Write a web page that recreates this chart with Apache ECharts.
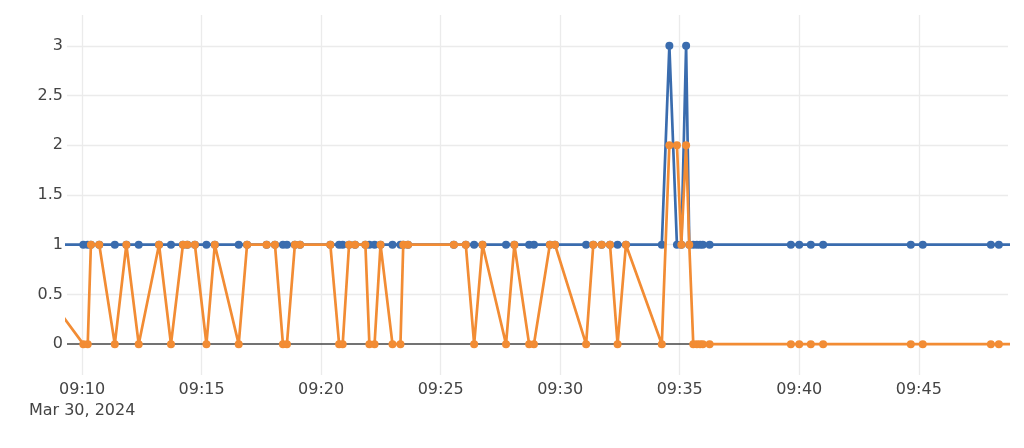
<!DOCTYPE html>
<html>
<head>
<meta charset="utf-8">
<script src="https://cdn.jsdelivr.net/npm/echarts@6/dist/echarts.min.js"></script>
<style>
  html, body { margin: 0; padding: 0; background: #fff; }
  #main { width: 1024px; height: 448px; }
</style>
</head>
<body>
<div id="main"></div>
<script>
// sample times (Mar 30, 2024), shared by both series
var times = [
  '09:07:00',
  '09:10:03','09:10:14','09:10:22','09:10:43','09:11:22','09:11:51','09:12:22','09:13:13',
  '09:13:43','09:14:13','09:14:24','09:14:43','09:15:12','09:15:33','09:16:33','09:16:54',
  '09:17:43','09:18:04','09:18:24','09:18:34','09:18:54','09:19:07','09:20:23','09:20:45',
  '09:20:54','09:21:10','09:21:25','09:21:51','09:22:01','09:22:14','09:22:29','09:22:59',
  '09:23:19','09:23:26','09:23:38','09:25:33','09:26:03','09:26:24','09:26:45','09:27:44',
  '09:28:05','09:28:42','09:28:54','09:29:34','09:29:47','09:31:05','09:31:23','09:31:44',
  '09:32:05','09:32:24','09:32:45','09:34:15','09:34:34','09:34:53','09:35:04','09:35:16',
  '09:35:24','09:35:34','09:35:43','09:35:51','09:35:58','09:36:15','09:39:39','09:40:00',
  '09:40:29','09:41:00','09:44:40','09:45:10','09:48:01','09:48:21',
  '09:50:00'
];

var blueValues = [
  1,
  1,1,1,1,1,1,1,1,
  1,1,1,1,1,1,1,1,
  1,1,1,1,1,1,1,1,
  1,1,1,1,1,1,1,1,
  1,1,1,1,1,1,1,1,
  1,1,1,1,1,1,1,1,
  1,1,1,1,3,1,1,3,
  1,1,1,1,1,1,1,1,
  1,1,1,1,1,1,
  1
];

var orangeValues = [
  1,
  0,0,1,1,0,1,0,1,
  0,1,1,1,0,1,0,1,
  1,1,0,0,1,1,1,0,
  0,1,1,1,0,0,1,0,
  0,1,1,1,1,0,1,0,
  1,0,0,1,1,0,1,1,
  1,0,1,0,2,2,1,2,
  1,0,0,0,0,0,0,0,
  0,0,0,0,0,0,
  0
];

var yTicks = [0, 0.5, 1, 1.5, 2, 2.5, 3];
var xTicks = ['09:10:00','09:15:00','09:20:00','09:25:00','09:30:00','09:35:00','09:40:00','09:45:00'];

function ts(t) {
  var p = t.split(':');
  return Date.UTC(2024, 2, 30, +p[0], +p[1], +p[2]);
}
function pad(n) { return (n < 10 ? '0' : '') + n; }

var blueData = times.map(function (t, i) { return [ts(t), blueValues[i]]; });
var orangeData = times.map(function (t, i) { return [ts(t), orangeValues[i]]; });

var myChart = echarts.init(document.getElementById('main'));
var font = 'DejaVu Sans';
var firstTick = ts(xTicks[0]);

// grid lines (drawn under the series)
var gridLines = xTicks.map(function (t) {
    return { xAxis: ts(t), lineStyle: { color: '#ebebeb', width: 1.3, type: 'solid' } };
}).concat(yTicks.map(function (y) {
    return {
        yAxis: y,
        lineStyle: y === 0
            ? { color: '#444', width: 1.6, type: 'solid' }
            : { color: '#ebebeb', width: 1.3, type: 'solid' }
    };
}));

option = {
    animation: false,
    useUTC: true,
    backgroundColor: '#fff',
    textStyle: { fontFamily: font },
    grid: { left: 67, right: 16, top: 15, bottom: 73, containLabel: false },
    xAxis: {
        type: 'time',
        min: ts('09:09:22'),
        max: ts('09:48:44'),
        splitNumber: 6,
        axisLine: { show: false },
        axisTick: { show: false },
        splitLine: { show: false },
        axisLabel: {
            margin: 4,
            color: '#444',
            fontFamily: font,
            fontSize: 16,
            lineHeight: 21,
            hideOverlap: false,
            formatter: function (v) {
                var d = new Date(v);
                if (d.getUTCSeconds() !== 0 || d.getUTCMinutes() % 5 !== 0) return '';
                var s = pad(d.getUTCHours()) + ':' + pad(d.getUTCMinutes());
                if (v === firstTick) s += '\nMar 30, 2024';
                return s;
            }
        }
    },
    yAxis: {
        type: 'value',
        min: -0.31,
        max: 3.31,
        splitNumber: 7,
        minInterval: 0.5,
        maxInterval: 0.5,
        axisLine: { show: false },
        axisTick: { show: false },
        splitLine: { show: false },
        axisLabel: {
            margin: 4,
            color: '#444',
            fontFamily: font,
            fontSize: 16,
            formatter: function (v) {
                return Math.abs(v * 2 - Math.round(v * 2)) < 1e-6 ? String(v) : '';
            }
        }
    },
    series: [
        {
            name: 'blue',
            type: 'line',
            data: blueData,
            z: 2,
            symbol: 'circle',
            symbolSize: 8,
            showSymbol: true,
            color: '#3a6cae',
            lineStyle: { width: 2.7, color: '#3a6cae' },
            itemStyle: { color: '#3a6cae' },
            markLine: {
                z: 0,
                silent: true,
                symbol: 'none',
                label: { show: false },
                data: gridLines
            }
        },
        {
            name: 'orange',
            type: 'line',
            data: orangeData,
            z: 3,
            symbol: 'circle',
            symbolSize: 8,
            showSymbol: true,
            color: '#f28c34',
            lineStyle: { width: 2.7, color: '#f28c34' },
            itemStyle: { color: '#f28c34' }
        }
    ]
};

myChart.setOption(option);
window.addEventListener('resize', function () { myChart.resize(); });
</script>
</body>
</html>
